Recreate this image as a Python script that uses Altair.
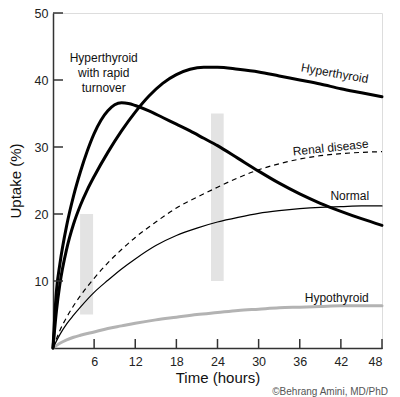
import altair as alt
import pandas as pd

FONT = "Liberation Sans"

# ---- data ----
hyper_t = [0, 0.5, 1, 2, 3, 4, 5, 6, 8, 10, 12, 14, 16, 18, 20, 22, 24, 27, 30, 33, 36, 39, 42, 45, 48]
hyper_v = [0, 5.5, 9.5, 14.8, 18.5, 21.3, 23.6, 25.6, 29.2, 32.4, 35.2, 37.6, 39.5, 40.8, 41.6, 41.9, 41.9, 41.6, 41.2, 40.6, 40.0, 39.4, 38.7, 38.1, 37.5]

rapid_t = [0, 0.5, 1, 2, 3, 4, 5, 6, 7, 8, 9, 10, 11, 12, 14, 16, 18, 20, 22, 24, 27, 30, 33, 36, 39, 42, 45, 48]
rapid_v = [0, 8.5, 12.5, 18.3, 22.7, 26.3, 29.4, 32.0, 34.0, 35.4, 36.3, 36.6, 36.5, 36.2, 35.4, 34.4, 33.4, 32.4, 31.3, 30.2, 28.3, 26.4, 24.6, 23.0, 21.6, 20.4, 19.3, 18.3]

slow_t = [0, 1, 2, 3, 4, 6, 8, 10, 12, 15, 18, 21, 24, 27, 30, 33, 36, 39, 42, 45, 48]
renal_v = [0, 2.6, 4.6, 6.3, 7.8, 10.4, 12.7, 14.7, 16.5, 18.8, 20.9, 22.5, 24.0, 25.4, 26.6, 27.5, 28.2, 28.7, 29.0, 29.2, 29.3]
normal_v = [0, 2.0, 3.6, 4.9, 6.1, 8.3, 10.1, 11.8, 13.3, 15.3, 16.8, 17.9, 18.8, 19.5, 20.1, 20.5, 20.8, 21.0, 21.1, 21.2, 21.2]
hypo_v = [0, 0.7, 1.2, 1.6, 1.9, 2.4, 2.9, 3.3, 3.7, 4.2, 4.6, 5.0, 5.3, 5.6, 5.8, 6.0, 6.1, 6.2, 6.3, 6.3, 6.3]

# normal ranges (gray bars)
band_x0 = [3.95, 23.05]
band_x1 = [5.85, 24.9]
band_y0 = [5, 10]
band_y1 = [20, 35]

x_ticks = [6, 12, 18, 24, 30, 36, 42, 48]
y_ticks = [10, 20, 30, 40, 50]

label_text = ["Hyperthyroid", "Renal disease", "Normal", "Hypothyroid", "Hyperthyroid\nwith rapid\nturnover"]
label_t = [41.1, 40.5, 43.3, 41.4, 7.4]
label_v = [41.0, 29.9, 22.7, 7.5, 43.3]
label_angle = [10, 354, 0, 0, 0]

# ---- chart ----
xscale = alt.Scale(domain=[0, 48], nice=False, zero=False)
yscale = alt.Scale(domain=[0, 50], nice=False, zero=False)

xaxis = alt.Axis(values=x_ticks, ticks=False, grid=False, domainColor="#333", domainWidth=1.5,
                 labelFont=FONT, labelFontSize=12.5, labelColor="#222", labelPadding=7,
                 title="Time (hours)", titleFont=FONT, titleFontSize=15, titleFontWeight="normal",
                 titleColor="#111", titlePadding=3)
yaxis = alt.Axis(values=y_ticks, ticks=False, grid=False, domainColor="#333", domainWidth=1.5,
                 labelFont=FONT, labelFontSize=12.5, labelColor="#222", labelPadding=5,
                 title="Uptake (%)", titleFont=FONT, titleFontSize=15, titleFontWeight="normal",
                 titleColor="#111", titlePadding=11)


def X(f):
    return alt.X(f, type="quantitative", scale=xscale, axis=xaxis)


def Y(f):
    return alt.Y(f, type="quantitative", scale=yscale, axis=yaxis)


bands = alt.Chart(pd.DataFrame({"x0": band_x0, "x1": band_x1, "y0": band_y0, "y1": band_y1})).mark_rect(
    color="#e3e3e3").encode(x=X("x0"), x2="x1", y=Y("y0"), y2="y1")


def line(t, v, cap="round", **style):
    return alt.Chart(pd.DataFrame({"t": t, "v": v})).mark_line(
        interpolate="monotone", strokeCap=cap, **style).encode(x=X("t"), y=Y("v"))


hypo = line(slow_t, hypo_v, color="#b3b3b3", strokeWidth=3)
normal = line(slow_t, normal_v, color="#000", strokeWidth=1.2)
renal = line(slow_t, renal_v, cap="butt", color="#000", strokeWidth=1.2, strokeDash=[5, 4])
rapid = line(rapid_t, rapid_v, color="#000", strokeWidth=3)
hyper = line(hyper_t, hyper_v, color="#000", strokeWidth=3)

xt = alt.Chart(pd.DataFrame({"t": x_ticks})).mark_rule(color="#333", strokeWidth=1.5).encode(
    x=X("t"), y=alt.value(336), y2=alt.value(326))
yt = alt.Chart(pd.DataFrame({"v": y_ticks})).mark_rule(color="#333", strokeWidth=1.5).encode(
    y=Y("v"), x=alt.value(0), x2=alt.value(10))

labels = alt.Chart(pd.DataFrame({"t": label_t, "v": label_v, "txt": label_text, "a": label_angle})).mark_text(
    font=FONT, fontSize=12, color="#111", lineBreak="\n", lineHeight=15, align="center", baseline="middle"
).encode(x=X("t"), y=Y("v"), text="txt:N", angle=alt.Angle("a:Q", scale=None))

credit = alt.Chart(pd.DataFrame({"c": ["\u00a9Behrang Amini, MD/PhD"]})).mark_text(
    font=FONT, fontSize=10, color="#555", align="right", baseline="alphabetic"
).encode(text="c:N", x=alt.value(335), y=alt.value(382))

chart = alt.layer(bands, hypo, normal, renal, rapid, hyper, xt, yt, labels, credit).properties(
    width=329, height=335,
    autosize=alt.AutoSizeParams(type="none"),
    padding={"left": 45, "top": 5, "right": 10, "bottom": 49},
).configure_view(stroke=None).configure(background="white")

chart.save("out.html", embed_options={"renderer": "svg", "actions": False})
